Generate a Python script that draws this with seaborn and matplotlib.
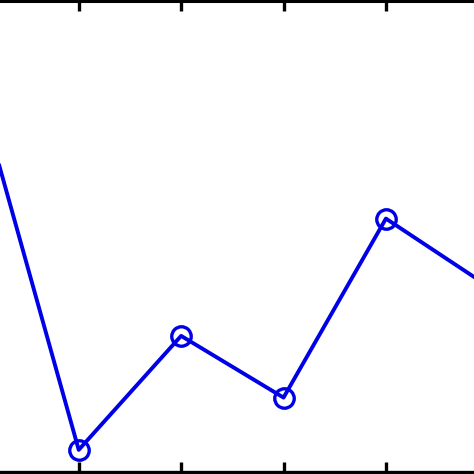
import matplotlib
matplotlib.use("Agg")
import matplotlib.pyplot as plt
import seaborn as sns
import pandas as pd


# values (first and last points lie just outside the crop)
STEPS = [0, 1, 2, 3, 4, 5]
VALUES = [0.825, 0.047, 0.289, 0.158, 0.538, 0.394]
TICKS = [1, 2, 3, 4, 5]

BLUE = "#0000e6"


def main() -> None:
    sns.set_style("white")

    data = pd.DataFrame({"step": STEPS, "value": VALUES})

    fig = plt.figure(figsize=(4.74, 4.74), dpi=100)
    ax = fig.add_axes([0.0, 2 / 474, 1.0, 471 / 474])

    sns.lineplot(
        data=data, x="step", y="value", ax=ax,
        color=BLUE, linewidth=2.8,
        marker="o", markersize=14, markerfacecolor="none",
        markeredgecolor=BLUE, markeredgewidth=2.4,
    )

    ax.set_xticks(TICKS)
    ax.set_yticks([])
    ax.set_xticklabels([])
    ax.set_xlim(0.2314, 4.860)
    ax.set_ylim(0, 1)
    ax.set_xlabel("")
    ax.set_ylabel("")
    ax.tick_params(axis="x", direction="in", length=7, width=2.4,
                   color="black", top=True, bottom=True)

    ax.spines["left"].set_visible(False)
    ax.spines["right"].set_visible(False)
    ax.spines["bottom"].set_color("black")
    ax.spines["bottom"].set_linewidth(2.4)
    ax.spines["top"].set_color("black")
    ax.spines["top"].set_linewidth(2.2)

    fig.savefig("out.png", dpi=100)
    plt.close(fig)


if __name__ == "__main__":
    main()
